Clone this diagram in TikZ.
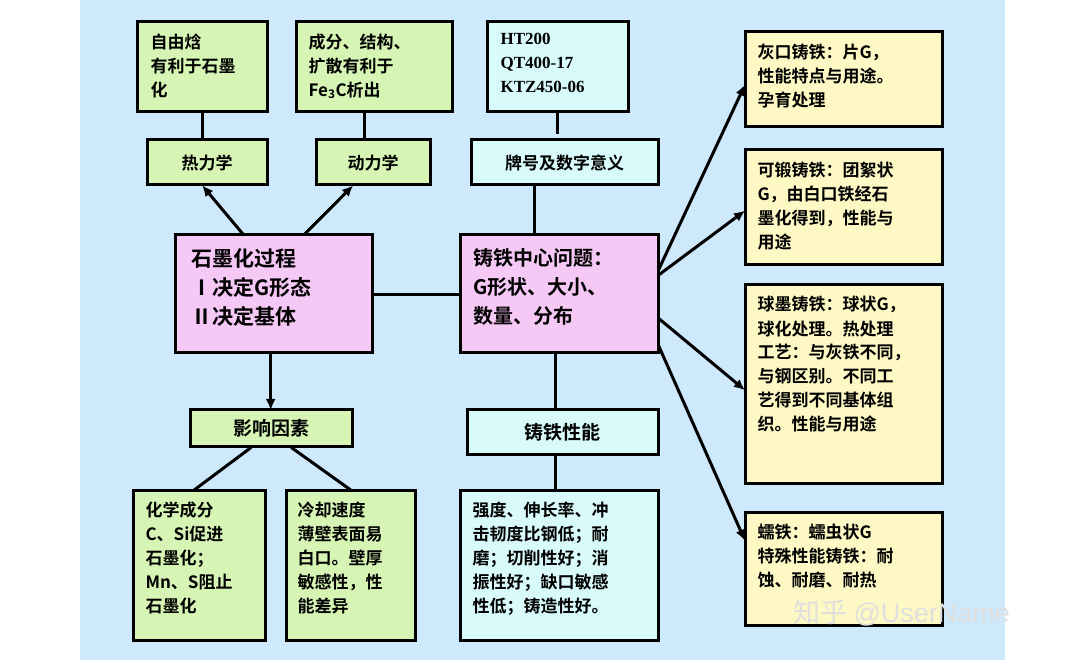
\documentclass[tikz,border=0pt]{standalone}
\usepackage{fontspec}
\setmainfont{Noto Sans CJK SC}[BoldFont={Noto Sans CJK SC Bold}]
\usetikzlibrary{arrows.meta}
\definecolor{bg}{HTML}{CDE9FB}
\definecolor{gr}{HTML}{D6F5B4}
\definecolor{cy}{HTML}{D9FAFA}
\definecolor{pk}{HTML}{F6C8F6}
\definecolor{yl}{HTML}{FEF9C4}
\tikzset{
 txt/.style={anchor=north west,align=left,font=\fontsize{17}{24}\selectfont\bfseries},
 ln/.style={line width=3pt},
 ar/.style={line width=3pt,-{Latex[length=11pt,width=10pt]}},
}
\newcommand{\mybox}[6]{% name x1 y1 x2 y2 color
 \path[fill=#6,draw=black,line width=3pt] (#2,#3) rectangle (#4,#5);
 \node[inner sep=0pt,minimum width=#4pt-#2pt,minimum height=#5pt-#3pt,anchor=north west] (#1) at (#2,#3) {};
}
\begin{document}
\begin{tikzpicture}[x=1pt,y=-1pt]
\useasboundingbox (0,0) rectangle (1080,660);
\fill[white] (0,0) rectangle (1080,660);
\fill[bg] (80,0) rectangle (1005,660);
% boxes
\mybox{b1}{137}{22}{267}{112}{gr}
\mybox{b2}{296}{22}{452}{112}{gr}
\mybox{b3}{487}{22}{628}{112}{cy}
\mybox{rl}{147}{140}{267}{185}{gr}
\mybox{dl}{316}{140}{430}{185}{gr}
\mybox{ph}{471}{140}{658}{185}{cy}
\mybox{sm}{175}{235}{372}{353}{pk}
\mybox{zx}{460}{235}{658}{353}{pk}
\mybox{yx}{190}{410}{352}{447}{gr}
\mybox{xn}{467}{410}{658}{455}{cy}
\mybox{hx}{133}{490}{265}{640}{gr}
\mybox{lq}{286}{490}{415}{640}{gr}
\mybox{qd}{460}{490}{658}{640}{cy}
\mybox{hk}{745}{32}{942}{127}{yl}
\mybox{kd}{745}{150}{942}{265}{yl}
\mybox{qm}{745}{285}{942}{483}{yl}
\mybox{rt}{745}{512}{942}{625}{yl}
% texts
\node[txt] at (147,30) {自由焓\\有利于石墨\\化};
\node[txt] at (305,30) {成分、结构、\\扩散有利于\\Fe\textsubscript{3}C析出};
\node[txt] at (497,30) {\fontspec{Liberation Serif}\bfseries HT200\\\fontspec{Liberation Serif}\bfseries QT400-17\\\fontspec{Liberation Serif}\bfseries KTZ450-06};
\node[font=\fontsize{17}{20}\selectfont\bfseries] at (rl) {热力学};
\node[font=\fontsize{17}{20}\selectfont\bfseries] at (dl) {动力学};
\node[font=\fontsize{17}{20}\selectfont\bfseries] at (ph) {牌号及数字意义};
\node[txt,font=\fontsize{21}{29}\selectfont\bfseries] at (188,245) {石墨化过程\\ Ⅰ决定G形态\\ Ⅱ决定基体};
\node[txt,font=\fontsize{20}{29}\selectfont\bfseries] at (470,245) {铸铁中心问题：\\G形状、大小、\\数量、分布};
\node[font=\fontsize{19}{22}\selectfont\bfseries] at (yx) {影响因素};
\node[font=\fontsize{19}{22}\selectfont\bfseries] at (xn) {铸铁性能};
\node[txt] at (142,498) {化学成分\\C、Si促进\\石墨化；\\Mn、S阻止\\石墨化};
\node[txt] at (294,498) {冷却速度\\薄壁表面易\\白口。壁厚\\敏感性，性\\能差异};
\node[txt] at (469,498) {强度、伸长率、冲\\击韧度比钢低；耐\\磨；切削性好；消\\振性好；缺口敏感\\性低；铸造性好。};
\node[txt] at (754,40) {灰口铸铁：片G，\\性能特点与用途。\\孕育处理};
\node[txt] at (754,158) {可锻铸铁：团絮状\\G，由白口铁经石\\墨化得到，性能与\\用途};
\node[txt] at (754,293) {球墨铸铁：球状G，\\球化处理。热处理\\工艺：与灰铁不同，\\与钢区别。不同工\\艺得到不同基体组\\织。性能与用途};
\node[txt] at (754,520) {蠕铁：蠕虫状G\\特殊性能铸铁：耐\\蚀、耐磨、耐热};
% connectors
\draw[ln] (b1.south) -- (b1.south |- rl.north);
\draw[ln] (b2.south) ++(-10,0) coordinate (t) -- (t |- dl.north);
\draw[ln] (b3.south) -- (b3.south |- 0,134);
\draw[ln] ([xshift=-25pt]zx.north) coordinate (u) (u |- ph.south) -- (u);
\draw[ar] ([xshift=-30pt]sm.north) -- ([xshift=-5pt]rl.south);
\draw[ar] ([xshift=30pt]sm.north) -- ([xshift=-20pt]dl.south);
\draw[ln] (sm.east) -- (zx.west);
\draw[ar] (sm.south) ++(-3,0) coordinate (v) -- (v |- yx.north);
\draw[ln] ([xshift=-20pt]yx.south) -- ([xshift=-5pt]hx.north);
\draw[ln] ([xshift=20pt]yx.south) -- ([xshift=0pt]lq.north);
\draw[ln] ([xshift=-4pt]zx.south) -- ([xshift=-4pt]zx.south |- xn.north);
\draw[ln] ([xshift=-4pt]zx.south |- xn.south) -- ([xshift=-4pt]zx.south |- qd.north);
\draw[ar] ([yshift=24pt]zx.east) -- ([yshift=-5pt]hk.west);
\draw[ar] ([yshift=19pt]zx.east) -- ([yshift=-3pt]kd.west);
\draw[ar] ([yshift=-24pt]zx.east) -- ([yshift=-6pt]qm.west);
\draw[ar] ([yshift=-51pt]zx.east) -- ([yshift=28pt]rt.west);
\node[anchor=west,text=gray!25,font=\fontsize{27}{30}\selectfont] at (790,613) {知乎 \fontspec{Liberation Sans}@UserName};
\end{tikzpicture}
\end{document}
